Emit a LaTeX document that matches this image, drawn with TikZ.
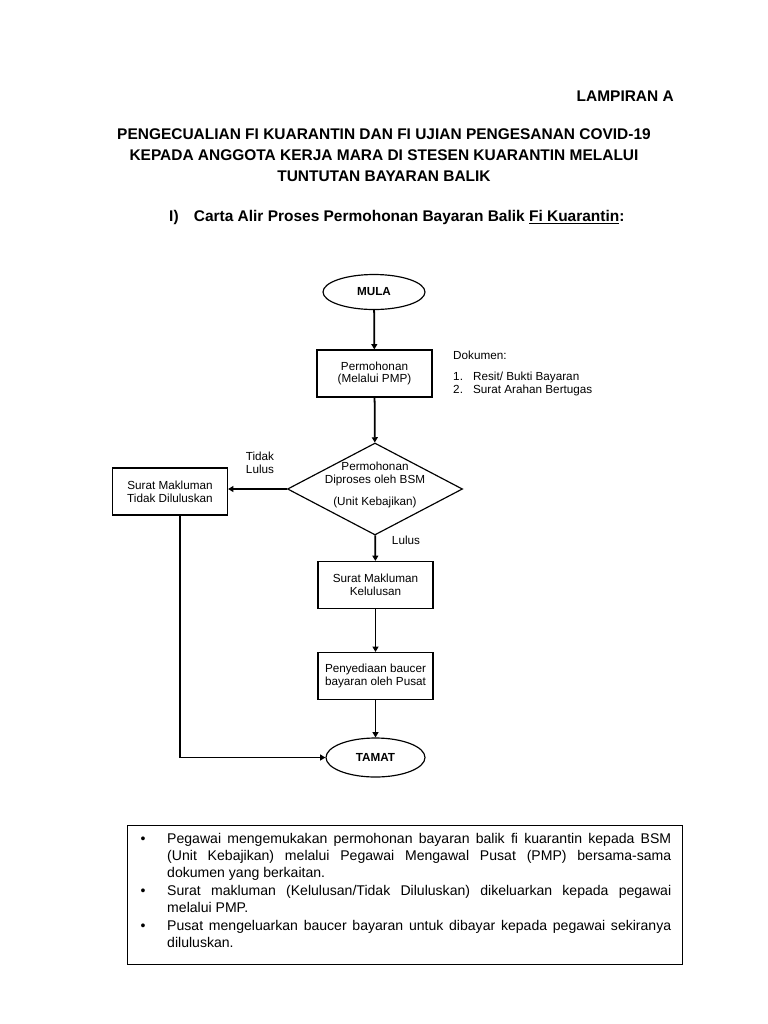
\documentclass[tikz,border=0pt]{standalone}
\usepackage{fontspec}
\setmainfont{Liberation Sans}
\usetikzlibrary{shapes.geometric, arrows.meta}

\begin{document}
\begin{tikzpicture}[x=0.03cm, y=-0.03cm]
    % Define styles
    \tikzset{
        flowline/.style={line width=1.5pt, -{Triangle[length=4.5pt,width=5pt]}},
        terminal/.style={draw, ellipse, line width=1pt, inner sep=0pt, font=\fontsize{10}{10.8}\selectfont\bfseries},
        process/.style={draw, rectangle, line width=1pt, inner sep=0pt, minimum width=3.45cm, minimum height=1.41cm, align=center, font=\fontsize{10}{10.8}\selectfont},
        decision/.style={draw, diamond, aspect=1.9, line width=1pt, inner sep=0pt, minimum width=5.25cm, minimum height=2.76cm},
        flowtext/.style={inner sep=0pt, align=center, font=\fontsize{10}{11}\selectfont},
        heading/.style={inner sep=0pt, font=\fontsize{13.2}{17.9}\selectfont\bfseries},
        notetext/.style={inner sep=0pt, text width=15.12cm, align=justify, font=\fontsize{12}{14.7}\selectfont}
    }

    % Define page
    \useasboundingbox (0,0) rectangle (768,1024);
    \fill[white] (0,0) rectangle (768,1024);

    % Draw headings
    \node[heading, anchor=east] (lampiran) at (674,96) {LAMPIRAN A};
    \node[heading, align=center] (tajuk) at (384,155) {PENGECUALIAN FI KUARANTIN DAN FI UJIAN PENGESANAN COVID-19\\KEPADA ANGGOTA KERJA MARA DI STESEN KUARANTIN MELALUI\\TUNTUTAN BAYARAN BALIK};
    \node[heading, anchor=west] (carta) at (169,217) {I)\hspace{13pt}Carta Alir Proses Permohonan Bayaran Balik \underline{Fi Kuarantin}:};

    % Draw flow chart nodes
    \node[terminal, minimum width=3.06cm, minimum height=1.05cm] (mula) at (374,292) {MULA};
    \node[process] (mohon) at (374.5,373.5) {Permohonan\\(Melalui PMP)};
    \node[decision] (proses) at (375,489) {};
    \node[flowtext] (prosesteks) at (375,485) {Permohonan\\Diproses oleh BSM\\[8pt](Unit Kebajikan)};
    \node[process] (tolak) at (170,491.5) {Surat Makluman\\Tidak Diluluskan};
    \node[process] (lulus) at (375.5,585) {Surat Makluman\\Kelulusan};
    \node[process] (baucer) at (375.5,676) {Penyediaan baucer\\bayaran oleh Pusat};
    \node[terminal, minimum width=2.97cm, minimum height=1.17cm] (tamat) at (375.5,757.5) {TAMAT};

    % Label documents and branches
    \node[flowtext, anchor=north west, align=left] (dokumen) at (453,351) {Dokumen:\\[7pt]\makebox[17pt][l]{1.}Resit/ Bukti Bayaran\\\makebox[17pt][l]{2.}Surat Arahan Bertugas};
    \node[flowtext] (tidaklulus) at (260,463) {Tidak\\Lulus};
    \node[flowtext] (luluslabel) at (406,540) {Lulus};

    % Draw connectors
    \draw[flowline] (mula) -- (mohon);
    \draw[flowline] (mohon) -- (proses);
    \draw[flowline] (proses.west) -- (tolak.east |- proses.west);
    \draw[flowline] (proses) -- (lulus);
    \draw[flowline] (lulus) -- (baucer);
    \draw[flowline] (baucer) -- (tamat);
    \draw[flowline] ([xshift=0.3cm]tolak.south) |- (tamat.west);

    % Draw notes box
    \node[draw, line width=1pt, anchor=north west, minimum width=16.65cm, minimum height=4.17cm, inner sep=0pt] (kotak) at (127,825) {};
    \foreach \y/\n in {843/1, 895/2, 930/3}
        \node[inner sep=0pt, anchor=base, font=\fontsize{12}{14.7}\selectfont] (titik\n) at (143,\y) {\textbullet};
    \node[notetext, anchor=base west] (poin1) at (167,843) {Pegawai mengemukakan permohonan bayaran balik fi kuarantin kepada BSM\linebreak (Unit Kebajikan) melalui Pegawai Mengawal Pusat (PMP) bersama-sama\linebreak dokumen yang berkaitan.};
    \node[notetext, anchor=base west] (poin2) at (167,895) {Surat makluman (Kelulusan/Tidak Diluluskan) dikeluarkan kepada pegawai\linebreak melalui PMP.};
    \node[notetext, anchor=base west] (poin3) at (167,930) {Pusat mengeluarkan baucer bayaran untuk dibayar kepada pegawai sekiranya\linebreak diluluskan.};
\end{tikzpicture}
\end{document}
